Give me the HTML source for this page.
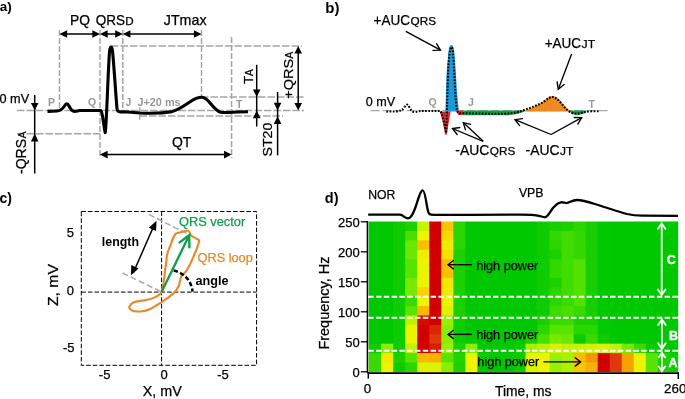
<!DOCTYPE html>
<html><head><meta charset="utf-8"><title>ECG features</title>
<style>
html,body{margin:0;padding:0;background:#fff;}
body{width:685px;height:399px;overflow:hidden;}
svg{display:block;font-family:"Liberation Sans",Arial,sans-serif;}
</style></head><body>
<svg width="685" height="399" viewBox="0 0 685 399">
<rect width="685" height="399" fill="#fff"/>
<g id="pa">
<text x="-0.3" y="10.8" font-size="13.5" fill="#000" font-weight="bold" textLength="12" lengthAdjust="spacingAndGlyphs">a)</text>
<line x1="59.5" y1="30" x2="59.5" y2="111" stroke="#a6a6a6" stroke-width="1.5" stroke-dasharray="6 2"/>
<line x1="100" y1="30" x2="100" y2="158" stroke="#a6a6a6" stroke-width="1.5" stroke-dasharray="6 2"/>
<line x1="122.8" y1="30" x2="122.8" y2="111" stroke="#a6a6a6" stroke-width="1.5" stroke-dasharray="6 2"/>
<line x1="201.5" y1="30" x2="201.5" y2="97" stroke="#a6a6a6" stroke-width="1.5" stroke-dasharray="6 2"/>
<line x1="231.6" y1="37" x2="231.6" y2="158" stroke="#a6a6a6" stroke-width="1.5" stroke-dasharray="6 2"/>
<line x1="139.7" y1="107.5" x2="139.7" y2="120.5" stroke="#a6a6a6" stroke-width="1.4" stroke-dasharray="5 2"/>
<line x1="111" y1="46" x2="302" y2="46" stroke="#a6a6a6" stroke-width="1.5" stroke-dasharray="7.5 2"/>
<line x1="17" y1="110.6" x2="304" y2="110.6" stroke="#a6a6a6" stroke-width="1.5" stroke-dasharray="7.5 2"/>
<line x1="139.5" y1="116" x2="283" y2="116" stroke="#a6a6a6" stroke-width="1.5" stroke-dasharray="7.5 2"/>
<line x1="201" y1="97" x2="304" y2="97" stroke="#a6a6a6" stroke-width="1.5" stroke-dasharray="7.5 2"/>
<line x1="17" y1="133.8" x2="100" y2="133.8" stroke="#a6a6a6" stroke-width="1.5" stroke-dasharray="7.5 2"/>
<text x="48" y="106" font-size="10.5" fill="#989898" font-weight="bold">P</text>
<text x="88" y="106" font-size="10.5" fill="#989898" font-weight="bold">Q</text>
<text x="125.6" y="106" font-size="10.5" fill="#989898" font-weight="bold">J</text>
<text x="137.4" y="106" font-size="10.5" fill="#989898" font-weight="bold" textLength="43.2" lengthAdjust="spacingAndGlyphs">J+20 ms</text>
<text x="236" y="107.8" font-size="10.5" fill="#999" font-weight="bold">T</text>
<path d="M47.5 111.4 L57 111 C60 111,62.5 109,64.5 106 C66 103.2,67.5 103.2,69 106 C70.5 109,72 111.4,74.5 111.4 C77 111.2,78 110.6,80 110.5 L101 110.5 C102.5 112,104 128,105.2 132.6 C106.5 128,108.3 62,109.6 51 C110.2 45.8,111.9 45.8,112.5 51 C113.8 63,116 98,117 108.5 C117.5 112,119 112,121 111.8 L128 112 L140 113 C152 113.6,163 113.2,172 111.6 C180 109.5,186 104.5,192 100.5 C195.5 98.2,198.5 97.2,201.3 97.2 C204 97.2,206.5 98.8,209 101.8 C213 106.5,216 111,220.5 112.2 C226 112.9,232 112.2,238 112 L248 111.7" fill="none" stroke="#000" stroke-width="3.1" stroke-linejoin="round" stroke-linecap="butt"/>
<line x1="61.5" y1="34" x2="98" y2="34" stroke="#000" stroke-width="1.5"/>
<polygon points="59.5,34.0 67.1,30.2 67.1,37.8" fill="#000"/>
<polygon points="100.0,34.0 92.4,37.8 92.4,30.2" fill="#000"/>
<line x1="102" y1="34" x2="120.8" y2="34" stroke="#000" stroke-width="1.5"/>
<polygon points="100.0,34.0 107.6,30.2 107.6,37.8" fill="#000"/>
<polygon points="122.8,34.0 115.2,37.8 115.2,30.2" fill="#000"/>
<line x1="124.8" y1="34" x2="199.5" y2="34" stroke="#000" stroke-width="1.5"/>
<polygon points="122.8,34.0 130.4,30.2 130.4,37.8" fill="#000"/>
<polygon points="201.5,34.0 193.9,37.8 193.9,30.2" fill="#000"/>
<line x1="102" y1="154.6" x2="229.6" y2="154.6" stroke="#000" stroke-width="1.5"/>
<polygon points="100.0,154.6 107.6,150.8 107.6,158.4" fill="#000"/>
<polygon points="231.6,154.6 224.0,158.4 224.0,150.8" fill="#000"/>
<text x="70" y="25" font-size="14.5" fill="#000" textLength="20" lengthAdjust="spacingAndGlyphs" stroke="#000" stroke-width="0.25">PQ</text>
<text x="95.7" y="25" font-size="14.5" fill="#000" textLength="29.3" lengthAdjust="spacingAndGlyphs" stroke="#000" stroke-width="0.25">QRS</text>
<text x="125.3" y="25" font-size="10.8" fill="#000" textLength="8.4" lengthAdjust="spacingAndGlyphs" stroke="#000" stroke-width="0.25">D</text>
<text x="163.8" y="24.8" font-size="14.5" fill="#000" textLength="42.7" lengthAdjust="spacingAndGlyphs" stroke="#000" stroke-width="0.25">JTmax</text>
<text x="172" y="146.8" font-size="14.5" fill="#000" textLength="19.4" lengthAdjust="spacingAndGlyphs" stroke="#000" stroke-width="0.25">QT</text>
<text x="-0.5" y="102.6" font-size="13" fill="#000" textLength="29.6" lengthAdjust="spacingAndGlyphs" stroke="#000" stroke-width="0.25">0 mV</text>
<line x1="34.7" y1="95" x2="34.7" y2="173.5" stroke="#000" stroke-width="1.5"/>
<polygon points="34.7,110.6 30.9,103.0 38.5,103.0" fill="#000"/>
<polygon points="34.7,133.8 38.5,141.4 30.9,141.4" fill="#000"/>
<text x="26.2" y="174" font-size="13.8" fill="#000" textLength="35" lengthAdjust="spacingAndGlyphs" transform="rotate(-90 26.2 174)" stroke="#000" stroke-width="0.25">-QRS</text>
<text x="26.2" y="138.3" font-size="10.3" fill="#000" transform="rotate(-90 26.2 138.3)" stroke="#000" stroke-width="0.25">A</text>
<line x1="256.7" y1="64.8" x2="256.7" y2="126.5" stroke="#000" stroke-width="1.5"/>
<polygon points="256.7,97.0 252.9,89.4 260.5,89.4" fill="#000"/>
<polygon points="256.7,110.6 260.5,118.2 252.9,118.2" fill="#000"/>
<text x="252.5" y="84" font-size="13.5" fill="#000" transform="rotate(-90 252.5 84)" stroke="#000" stroke-width="0.25">T</text>
<text x="252.5" y="76" font-size="10" fill="#000" transform="rotate(-90 252.5 76)" stroke="#000" stroke-width="0.25">A</text>
<line x1="277.6" y1="92" x2="277.6" y2="155.4" stroke="#000" stroke-width="1.5"/>
<polygon points="277.6,110.4 273.8,102.8 281.4,102.8" fill="#000"/>
<polygon points="277.6,116.3 281.4,123.9 273.8,123.9" fill="#000"/>
<text x="272.3" y="156.6" font-size="13.5" fill="#000" textLength="34" lengthAdjust="spacingAndGlyphs" transform="rotate(-90 272.3 156.6)" stroke="#000" stroke-width="0.25">ST20</text>
<line x1="298.2" y1="48" x2="298.2" y2="108" stroke="#000" stroke-width="1.5"/>
<polygon points="298.2,46.0 302.0,53.6 294.4,53.6" fill="#000"/>
<polygon points="298.2,110.6 294.4,103.0 302.0,103.0" fill="#000"/>
<text x="292.8" y="98.8" font-size="13.5" fill="#000" textLength="40" lengthAdjust="spacingAndGlyphs" transform="rotate(-90 292.8 98.8)" stroke="#000" stroke-width="0.25">+QRS</text>
<text x="292.8" y="58.5" font-size="10" fill="#000" transform="rotate(-90 292.8 58.5)" stroke="#000" stroke-width="0.25">A</text>
</g>
<g id="pb">
<text x="325.3" y="12.6" font-size="15" fill="#000" font-weight="bold">b)</text>
<line x1="370.6" y1="110.6" x2="608.5" y2="110.6" stroke="#a6a6a6" stroke-width="1.3" stroke-dasharray="9 3"/>
<path d="M445.4 111.5 C445.8 100,446 90,446.3 80 C446.7 70,447.2 64,447.8 59 C448.2 52,448.8 45,451.4 45 C454 45,454.4 52,454.8 58 C455.3 64,455.8 72,456.3 80 C457 92,457.8 102,459.1 111.5 Z" fill="#1c9ad8"/>
<path d="M439.6 111.5 L450.6 111.5 C449.2 119,447.8 129,446.9 134 C446.6 135.4,445.4 135.4,445.1 134 C444 128,442 117,439.6 111.5 Z" fill="#e0262a"/>
<path d="M456.4 110.6 L463.6 110.6 L463.6 115 L458.5 115 C457.5 114.5,456.8 112.8,456.4 110.6 Z" fill="#e0262a"/>
<path d="M463.4 110.6 L526 110.6 C522 113.2,515 114.9,506 115.2 L463.4 115.2 Z" fill="#14a04a"/>
<path d="M523.5 111.5 C530 107.8,538 105.6,543.5 101.2 C547.5 98,550 96,552.5 96 C555.5 96,558.5 98.5,561.5 102 C564.5 105.5,567.5 109,571 111.5 Z" fill="#ee8a22"/>
<path d="M569 110.6 L587 110.6 C585 113.6,581 115.2,577 115.2 C573.5 115.2,571 113.6,569 110.6 Z" fill="#14a04a"/>
<path d="M386.4 111.6 L397 111.4 C401 111,403 109.5,405 106.5 C406.5 104,407.8 104,409 106.5 C410.5 109.5,412 112,414.5 112 C417 111.8,419 111,421 111 L440.5 111 C442.5 114,445 127,446.1 132.8 C446.6 127,447.2 100,447.7 84 C448 72,448.6 61,449.6 54 C450.2 49,450.8 47,451.4 47 C452 47,452.5 48.5,453 53 C453.8 62,454.4 74,454.8 84 C455.3 95,456 104,457 110 C457.6 113.4,459 113.3,461 113.2 L480 113.6 L500 113.8 C508 113.8,516 113.2,522 110.8 C530 107.8,538 105.5,544 101.5 C548 98.5,550.5 97,552.5 97 C555 97,558 99.5,561 103 C565 108,569 113,574.5 113.5 C580 113.8,585 111.6,592 111.3 L599 111.3" fill="none" stroke="#000" stroke-width="2.1" stroke-dasharray="1.7 1.5"/>
<text x="365.8" y="105.6" font-size="13" fill="#000" textLength="29.4" lengthAdjust="spacingAndGlyphs" stroke="#000" stroke-width="0.25">0 mV</text>
<text x="428.4" y="105.6" font-size="10.5" fill="#989898" font-weight="bold">Q</text>
<text x="467.9" y="105.6" font-size="10.5" fill="#989898" font-weight="bold">J</text>
<text x="588.4" y="107.9" font-size="10.5" fill="#999" font-weight="bold">T</text>
<text x="373.6" y="24.6" font-size="14.5" fill="#000" textLength="36.4" lengthAdjust="spacingAndGlyphs" stroke="#000" stroke-width="0.25">+AUC</text>
<text x="410.5" y="24.6" font-size="10.2" fill="#000" textLength="25.5" lengthAdjust="spacingAndGlyphs" stroke="#000" stroke-width="0.25">QRS</text>
<line x1="405.8" y1="31.4" x2="440.5" y2="50.2" stroke="#000" stroke-width="1.35"/>
<polyline points="433.0,50.4 440.5,50.2 436.6,43.8" fill="none" stroke="#000" stroke-width="1.35" stroke-linecap="round" stroke-linejoin="miter"/>
<text x="544.7" y="47.8" font-size="14.5" fill="#000" textLength="36.4" lengthAdjust="spacingAndGlyphs" stroke="#000" stroke-width="0.25">+AUC</text>
<text x="581.6" y="47.8" font-size="10" fill="#000" textLength="13.5" lengthAdjust="spacingAndGlyphs" stroke="#000" stroke-width="0.25">JT</text>
<line x1="571.6" y1="54" x2="558.3" y2="89.2" stroke="#000" stroke-width="1.35"/>
<polyline points="557.1,81.8 558.3,89.2 564.1,84.4" fill="none" stroke="#000" stroke-width="1.35" stroke-linecap="round" stroke-linejoin="miter"/>
<text x="455.3" y="154.8" font-size="14.5" fill="#000" textLength="34" lengthAdjust="spacingAndGlyphs" stroke="#000" stroke-width="0.25">-AUC</text>
<text x="489.8" y="154.8" font-size="10.5" fill="#000" textLength="25.5" lengthAdjust="spacingAndGlyphs" stroke="#000" stroke-width="0.25">QRS</text>
<line x1="483.2" y1="141.3" x2="452.5" y2="128.5" stroke="#000" stroke-width="1.35"/>
<polyline points="459.9,127.5 452.5,128.5 457.1,134.5" fill="none" stroke="#000" stroke-width="1.35" stroke-linecap="round" stroke-linejoin="miter"/>
<line x1="483.2" y1="141.3" x2="463.3" y2="122.6" stroke="#000" stroke-width="1.35"/>
<polyline points="470.6,124.3 463.3,122.6 465.5,129.8" fill="none" stroke="#000" stroke-width="1.35" stroke-linecap="round" stroke-linejoin="miter"/>
<text x="525.6" y="155" font-size="14.5" fill="#000" textLength="34" lengthAdjust="spacingAndGlyphs" stroke="#000" stroke-width="0.25">-AUC</text>
<text x="560.1" y="155" font-size="10.5" fill="#000" textLength="13.3" lengthAdjust="spacingAndGlyphs" stroke="#000" stroke-width="0.25">JT</text>
<line x1="551" y1="134.5" x2="515" y2="119.7" stroke="#000" stroke-width="1.35"/>
<polyline points="522.4,118.7 515.0,119.7 519.6,125.6" fill="none" stroke="#000" stroke-width="1.35" stroke-linecap="round" stroke-linejoin="miter"/>
<line x1="551" y1="134.5" x2="581.7" y2="117.7" stroke="#000" stroke-width="1.35"/>
<polyline points="577.8,124.1 581.7,117.7 574.2,117.5" fill="none" stroke="#000" stroke-width="1.35" stroke-linecap="round" stroke-linejoin="miter"/>
</g>
<g id="pc">
<text x="-0.5" y="202.8" font-size="14" fill="#000" font-weight="bold">c)</text>
<rect x="81.3" y="211.5" width="175.3" height="153.8" fill="none" stroke="#000" stroke-width="1" stroke-dasharray="4.6 2"/>
<line x1="161.6" y1="211.5" x2="161.6" y2="365.3" stroke="#000" stroke-width="1" stroke-dasharray="4.6 2"/>
<line x1="81.3" y1="292.1" x2="256.6" y2="292.1" stroke="#000" stroke-width="1" stroke-dasharray="4.6 2"/>
<text x="70.3" y="237.3" font-size="13" fill="#000" text-anchor="middle" stroke="#000" stroke-width="0.25">5</text>
<text x="70.3" y="294.7" font-size="13" fill="#000" text-anchor="middle" stroke="#000" stroke-width="0.25">0</text>
<text x="68.7" y="352.4" font-size="13" fill="#000" text-anchor="middle" stroke="#000" stroke-width="0.25">-5</text>
<text x="104.6" y="378.8" font-size="13" fill="#000" text-anchor="middle" stroke="#000" stroke-width="0.25">-5</text>
<text x="164.2" y="378.8" font-size="13" fill="#000" text-anchor="middle" stroke="#000" stroke-width="0.25">0</text>
<text x="223" y="378.8" font-size="13" fill="#000" text-anchor="middle" stroke="#000" stroke-width="0.25">-5</text>
<text x="142.7" y="395.8" font-size="14" fill="#000" textLength="39" lengthAdjust="spacingAndGlyphs" stroke="#000" stroke-width="0.25">X, mV</text>
<text x="58.3" y="306" font-size="14" fill="#000" textLength="42" lengthAdjust="spacingAndGlyphs" transform="rotate(-90 58.3 306)" stroke="#000" stroke-width="0.25">Z, mV</text>
<line x1="149" y1="214.4" x2="189" y2="234.7" stroke="#aaa" stroke-width="1.5" stroke-dasharray="6 3"/>
<line x1="122.6" y1="273" x2="161.6" y2="292" stroke="#aaa" stroke-width="1.5" stroke-dasharray="6 3"/>
<path d="M161.6 292.3 C163 286,164.3 280,164.8 273 C165 268,166.8 262,166.6 257.8 C167 252,169.5 248,171 244 C172 240,173.5 236.5,175.4 234 C177 232,178.5 233.3,180.4 232.3 C183 231.5,185.5 230.5,188 230.7 C190 231,189.5 234,191 235.4 C193.5 237.5,197 238.5,199.2 240.3 C198.8 243.5,197.6 246,196.7 249 C195.5 252,194 255,193 257.8 C191 262.5,189 266.5,186.7 270.4 C185 273,183 274.5,181.2 276.5 C180 279,180 283,178.6 286.3 C177 289.5,175.5 292,172.9 293.9 C170 296.5,166.5 299,162.8 301.4 C158.5 304,154.5 307,150.3 309 C147 310.5,143.5 311.5,140.2 311.5 C137 311.7,133.5 311.5,131.4 310.2 C129.5 309,128.8 307.5,129.6 306.2 C130.5 304.3,132 303,133.9 302.2 C137.5 301,141.5 300.8,145.2 300.2 C149 299.5,152.5 298.5,155.3 297.1 C157.8 295.8,160 294.3,161.6 292.3 Z" fill="none" stroke="#e8882a" stroke-width="2.1" stroke-linejoin="round"/>
<line x1="161.6" y1="292.1" x2="188.7" y2="236.2" stroke="#0e9d4e" stroke-width="2.3"/>
<polyline points="189.4,247.2 189.2,235.2 179.6,242.4" fill="none" stroke="#0e9d4e" stroke-width="2.4" stroke-linecap="round" stroke-linejoin="miter"/>
<text x="179" y="225.7" font-size="12.8" fill="#0e9d4e" textLength="66.2" lengthAdjust="spacingAndGlyphs" stroke="#0e9d4e" stroke-width="0.25">QRS vector</text>
<text x="197.5" y="261.6" font-size="12.8" fill="#e8882a" textLength="55.3" lengthAdjust="spacingAndGlyphs" stroke="#e8882a" stroke-width="0.25">QRS loop</text>
<text x="101.8" y="246.2" font-size="12.4" fill="#000" font-weight="bold" textLength="37.2" lengthAdjust="spacingAndGlyphs">length</text>
<text x="195.5" y="284.6" font-size="12.6" fill="#000" font-weight="bold" textLength="33.1" lengthAdjust="spacingAndGlyphs">angle</text>
<line x1="154.8" y1="223.6" x2="133.2" y2="273" stroke="#000" stroke-width="1.5"/>
<polygon points="156.5,220.8 156.1,231.1 148.8,227.7" fill="#000"/>
<polygon points="130.9,275.3 131.3,265.0 138.6,268.4" fill="#000"/>
<path d="M173.6 270.6 C180.5 272,186 276,189 281 C191 284.5,192.3 288,192.5 291.6" fill="none" stroke="#000" stroke-width="2.5" stroke-dasharray="4.4 2.4"/>
</g>
<g id="pd">
<text x="324.8" y="203.2" font-size="14.5" fill="#000" font-weight="bold">d)</text>
<clipPath id="hc"><rect x="368.6" y="221.6" width="309.6" height="150.29999999999998"/></clipPath>
<filter id="hb" x="-5%" y="-5%" width="110%" height="110%"><feGaussianBlur stdDeviation="0.55"/></filter>
<g clip-path="url(#hc)"><g filter="url(#hb)">
<rect x="363.1" y="215.6" width="321.1" height="162.29999999999998" fill="#00c800"/>
<rect x="363.10" y="215.60" width="31.06" height="16.39" fill="#00c800"/>
<rect x="393.16" y="215.60" width="13.03" height="16.39" fill="#11cd00"/>
<rect x="405.19" y="215.60" width="13.03" height="16.39" fill="#1cd000"/>
<rect x="417.22" y="215.60" width="13.03" height="16.39" fill="#caf200"/>
<rect x="429.25" y="215.60" width="13.03" height="16.39" fill="#d00000"/>
<rect x="441.28" y="215.60" width="13.03" height="16.39" fill="#f9c700"/>
<rect x="453.31" y="215.60" width="13.03" height="16.39" fill="#2ad500"/>
<rect x="465.34" y="215.60" width="73.18" height="16.39" fill="#00c800"/>
<rect x="537.52" y="215.60" width="13.03" height="16.39" fill="#11cd00"/>
<rect x="549.55" y="215.60" width="13.03" height="16.39" fill="#16ce00"/>
<rect x="561.58" y="215.60" width="13.03" height="16.39" fill="#1cd000"/>
<rect x="573.61" y="215.60" width="13.03" height="16.39" fill="#2dd600"/>
<rect x="585.64" y="215.60" width="13.03" height="16.39" fill="#16ce00"/>
<rect x="597.67" y="215.60" width="13.03" height="16.39" fill="#06ca00"/>
<rect x="609.70" y="215.60" width="79.18" height="16.39" fill="#00c800"/>
<rect x="363.10" y="230.99" width="31.06" height="10.39" fill="#00c800"/>
<rect x="393.16" y="230.99" width="13.03" height="10.39" fill="#11cd00"/>
<rect x="405.19" y="230.99" width="13.03" height="10.39" fill="#48df00"/>
<rect x="417.22" y="230.99" width="13.03" height="10.39" fill="#ecf400"/>
<rect x="429.25" y="230.99" width="13.03" height="10.39" fill="#d00000"/>
<rect x="441.28" y="230.99" width="13.03" height="10.39" fill="#fada00"/>
<rect x="453.31" y="230.99" width="13.03" height="10.39" fill="#2ad500"/>
<rect x="465.34" y="230.99" width="73.18" height="10.39" fill="#00c800"/>
<rect x="537.52" y="230.99" width="13.03" height="10.39" fill="#11cd00"/>
<rect x="549.55" y="230.99" width="13.03" height="10.39" fill="#32d800"/>
<rect x="561.58" y="230.99" width="13.03" height="10.39" fill="#42dd00"/>
<rect x="573.61" y="230.99" width="13.03" height="10.39" fill="#32d800"/>
<rect x="585.64" y="230.99" width="13.03" height="10.39" fill="#16ce00"/>
<rect x="597.67" y="230.99" width="13.03" height="10.39" fill="#06ca00"/>
<rect x="609.70" y="230.99" width="79.18" height="10.39" fill="#00c800"/>
<rect x="363.10" y="240.38" width="31.06" height="10.39" fill="#00c800"/>
<rect x="393.16" y="240.38" width="13.03" height="10.39" fill="#11cd00"/>
<rect x="405.19" y="240.38" width="13.03" height="10.39" fill="#6be800"/>
<rect x="417.22" y="240.38" width="13.03" height="10.39" fill="#f8c000"/>
<rect x="429.25" y="240.38" width="13.03" height="10.39" fill="#d00000"/>
<rect x="441.28" y="240.38" width="13.03" height="10.39" fill="#f0ec00"/>
<rect x="453.31" y="240.38" width="13.03" height="10.39" fill="#2ad500"/>
<rect x="465.34" y="240.38" width="73.18" height="10.39" fill="#00c800"/>
<rect x="537.52" y="240.38" width="13.03" height="10.39" fill="#11cd00"/>
<rect x="549.55" y="240.38" width="13.03" height="10.39" fill="#2dd600"/>
<rect x="561.58" y="240.38" width="13.03" height="10.39" fill="#42dd00"/>
<rect x="573.61" y="240.38" width="13.03" height="10.39" fill="#32d800"/>
<rect x="585.64" y="240.38" width="13.03" height="10.39" fill="#16ce00"/>
<rect x="597.67" y="240.38" width="13.03" height="10.39" fill="#06ca00"/>
<rect x="609.70" y="240.38" width="79.18" height="10.39" fill="#00c800"/>
<rect x="363.10" y="249.77" width="31.06" height="10.39" fill="#00c800"/>
<rect x="393.16" y="249.77" width="13.03" height="10.39" fill="#11cd00"/>
<rect x="405.19" y="249.77" width="13.03" height="10.39" fill="#6be800"/>
<rect x="417.22" y="249.77" width="13.03" height="10.39" fill="#f0ec00"/>
<rect x="429.25" y="249.77" width="13.03" height="10.39" fill="#d00000"/>
<rect x="441.28" y="249.77" width="13.03" height="10.39" fill="#f7df00"/>
<rect x="453.31" y="249.77" width="13.03" height="10.39" fill="#1cd000"/>
<rect x="465.34" y="249.77" width="73.18" height="10.39" fill="#00c800"/>
<rect x="537.52" y="249.77" width="13.03" height="10.39" fill="#11cd00"/>
<rect x="549.55" y="249.77" width="13.03" height="10.39" fill="#1cd000"/>
<rect x="561.58" y="249.77" width="13.03" height="10.39" fill="#42dd00"/>
<rect x="573.61" y="249.77" width="13.03" height="10.39" fill="#32d800"/>
<rect x="585.64" y="249.77" width="13.03" height="10.39" fill="#16ce00"/>
<rect x="597.67" y="249.77" width="13.03" height="10.39" fill="#06ca00"/>
<rect x="609.70" y="249.77" width="79.18" height="10.39" fill="#00c800"/>
<rect x="363.10" y="259.16" width="31.06" height="10.39" fill="#00c800"/>
<rect x="393.16" y="259.16" width="13.03" height="10.39" fill="#11cd00"/>
<rect x="405.19" y="259.16" width="13.03" height="10.39" fill="#58e400"/>
<rect x="417.22" y="259.16" width="13.03" height="10.39" fill="#ecf400"/>
<rect x="429.25" y="259.16" width="13.03" height="10.39" fill="#d00000"/>
<rect x="441.28" y="259.16" width="13.03" height="10.39" fill="#f8c000"/>
<rect x="453.31" y="259.16" width="13.03" height="10.39" fill="#1cd000"/>
<rect x="465.34" y="259.16" width="73.18" height="10.39" fill="#00c800"/>
<rect x="537.52" y="259.16" width="13.03" height="10.39" fill="#11cd00"/>
<rect x="549.55" y="259.16" width="13.03" height="10.39" fill="#32d800"/>
<rect x="561.58" y="259.16" width="13.03" height="10.39" fill="#42dd00"/>
<rect x="573.61" y="259.16" width="13.03" height="10.39" fill="#52e200"/>
<rect x="585.64" y="259.16" width="13.03" height="10.39" fill="#16ce00"/>
<rect x="597.67" y="259.16" width="13.03" height="10.39" fill="#06ca00"/>
<rect x="609.70" y="259.16" width="79.18" height="10.39" fill="#00c800"/>
<rect x="363.10" y="268.55" width="31.06" height="10.39" fill="#00c800"/>
<rect x="393.16" y="268.55" width="13.03" height="10.39" fill="#11cd00"/>
<rect x="405.19" y="268.55" width="13.03" height="10.39" fill="#58e400"/>
<rect x="417.22" y="268.55" width="13.03" height="10.39" fill="#ecf400"/>
<rect x="429.25" y="268.55" width="13.03" height="10.39" fill="#d00000"/>
<rect x="441.28" y="268.55" width="13.03" height="10.39" fill="#f8c000"/>
<rect x="453.31" y="268.55" width="13.03" height="10.39" fill="#1cd000"/>
<rect x="465.34" y="268.55" width="73.18" height="10.39" fill="#00c800"/>
<rect x="537.52" y="268.55" width="13.03" height="10.39" fill="#11cd00"/>
<rect x="549.55" y="268.55" width="13.03" height="10.39" fill="#32d800"/>
<rect x="561.58" y="268.55" width="13.03" height="10.39" fill="#42dd00"/>
<rect x="573.61" y="268.55" width="13.03" height="10.39" fill="#52e200"/>
<rect x="585.64" y="268.55" width="13.03" height="10.39" fill="#16ce00"/>
<rect x="597.67" y="268.55" width="13.03" height="10.39" fill="#06ca00"/>
<rect x="609.70" y="268.55" width="79.18" height="10.39" fill="#00c800"/>
<rect x="363.10" y="277.94" width="31.06" height="10.39" fill="#00c800"/>
<rect x="393.16" y="277.94" width="13.03" height="10.39" fill="#11cd00"/>
<rect x="405.19" y="277.94" width="13.03" height="10.39" fill="#77ea00"/>
<rect x="417.22" y="277.94" width="13.03" height="10.39" fill="#ecf400"/>
<rect x="429.25" y="277.94" width="13.03" height="10.39" fill="#d00000"/>
<rect x="441.28" y="277.94" width="13.03" height="10.39" fill="#f3e700"/>
<rect x="453.31" y="277.94" width="13.03" height="10.39" fill="#1cd000"/>
<rect x="465.34" y="277.94" width="73.18" height="10.39" fill="#00c800"/>
<rect x="537.52" y="277.94" width="13.03" height="10.39" fill="#11cd00"/>
<rect x="549.55" y="277.94" width="13.03" height="10.39" fill="#1cd000"/>
<rect x="561.58" y="277.94" width="13.03" height="10.39" fill="#42dd00"/>
<rect x="573.61" y="277.94" width="13.03" height="10.39" fill="#52e200"/>
<rect x="585.64" y="277.94" width="13.03" height="10.39" fill="#16ce00"/>
<rect x="597.67" y="277.94" width="13.03" height="10.39" fill="#06ca00"/>
<rect x="609.70" y="277.94" width="79.18" height="10.39" fill="#00c800"/>
<rect x="363.10" y="287.33" width="31.06" height="10.39" fill="#00c800"/>
<rect x="393.16" y="287.33" width="13.03" height="10.39" fill="#11cd00"/>
<rect x="405.19" y="287.33" width="13.03" height="10.39" fill="#77ea00"/>
<rect x="417.22" y="287.33" width="13.03" height="10.39" fill="#f9d000"/>
<rect x="429.25" y="287.33" width="13.03" height="10.39" fill="#d00000"/>
<rect x="441.28" y="287.33" width="13.03" height="10.39" fill="#f0ec00"/>
<rect x="453.31" y="287.33" width="13.03" height="10.39" fill="#1cd000"/>
<rect x="465.34" y="287.33" width="73.18" height="10.39" fill="#00c800"/>
<rect x="537.52" y="287.33" width="13.03" height="10.39" fill="#11cd00"/>
<rect x="549.55" y="287.33" width="13.03" height="10.39" fill="#2ad500"/>
<rect x="561.58" y="287.33" width="13.03" height="10.39" fill="#42dd00"/>
<rect x="573.61" y="287.33" width="13.03" height="10.39" fill="#52e200"/>
<rect x="585.64" y="287.33" width="13.03" height="10.39" fill="#16ce00"/>
<rect x="597.67" y="287.33" width="13.03" height="10.39" fill="#06ca00"/>
<rect x="609.70" y="287.33" width="79.18" height="10.39" fill="#00c800"/>
<rect x="363.10" y="296.72" width="31.06" height="10.39" fill="#00c800"/>
<rect x="393.16" y="296.72" width="13.03" height="10.39" fill="#11cd00"/>
<rect x="405.19" y="296.72" width="13.03" height="10.39" fill="#38da00"/>
<rect x="417.22" y="296.72" width="13.03" height="10.39" fill="#ecf400"/>
<rect x="429.25" y="296.72" width="13.03" height="10.39" fill="#d00000"/>
<rect x="441.28" y="296.72" width="13.03" height="10.39" fill="#ecf400"/>
<rect x="453.31" y="296.72" width="13.03" height="10.39" fill="#1cd000"/>
<rect x="465.34" y="296.72" width="73.18" height="10.39" fill="#00c800"/>
<rect x="537.52" y="296.72" width="13.03" height="10.39" fill="#11cd00"/>
<rect x="549.55" y="296.72" width="13.03" height="10.39" fill="#2ad500"/>
<rect x="561.58" y="296.72" width="13.03" height="10.39" fill="#38da00"/>
<rect x="573.61" y="296.72" width="13.03" height="10.39" fill="#52e200"/>
<rect x="585.64" y="296.72" width="13.03" height="10.39" fill="#16ce00"/>
<rect x="597.67" y="296.72" width="13.03" height="10.39" fill="#06ca00"/>
<rect x="609.70" y="296.72" width="79.18" height="10.39" fill="#00c800"/>
<rect x="363.10" y="306.11" width="31.06" height="10.39" fill="#00c800"/>
<rect x="393.16" y="306.11" width="13.03" height="10.39" fill="#11cd00"/>
<rect x="405.19" y="306.11" width="13.03" height="10.39" fill="#58e400"/>
<rect x="417.22" y="306.11" width="13.03" height="10.39" fill="#f8ba00"/>
<rect x="429.25" y="306.11" width="13.03" height="10.39" fill="#d00000"/>
<rect x="441.28" y="306.11" width="13.03" height="10.39" fill="#dbf300"/>
<rect x="453.31" y="306.11" width="13.03" height="10.39" fill="#1cd000"/>
<rect x="465.34" y="306.11" width="73.18" height="10.39" fill="#00c800"/>
<rect x="537.52" y="306.11" width="13.03" height="10.39" fill="#11cd00"/>
<rect x="549.55" y="306.11" width="13.03" height="10.39" fill="#3edc00"/>
<rect x="561.58" y="306.11" width="13.03" height="10.39" fill="#48df00"/>
<rect x="573.61" y="306.11" width="13.03" height="10.39" fill="#38da00"/>
<rect x="585.64" y="306.11" width="13.03" height="10.39" fill="#16ce00"/>
<rect x="597.67" y="306.11" width="13.03" height="10.39" fill="#06ca00"/>
<rect x="609.70" y="306.11" width="79.18" height="10.39" fill="#00c800"/>
<rect x="363.10" y="315.50" width="31.06" height="10.39" fill="#00c800"/>
<rect x="393.16" y="315.50" width="13.03" height="10.39" fill="#0ecc00"/>
<rect x="405.19" y="315.50" width="13.03" height="10.39" fill="#c1f200"/>
<rect x="417.22" y="315.50" width="13.03" height="10.39" fill="#d51102"/>
<rect x="429.25" y="315.50" width="13.03" height="10.39" fill="#d00000"/>
<rect x="441.28" y="315.50" width="13.03" height="10.39" fill="#96f000"/>
<rect x="453.31" y="315.50" width="13.03" height="10.39" fill="#0ecc00"/>
<rect x="465.34" y="315.50" width="73.18" height="10.39" fill="#00c800"/>
<rect x="537.52" y="315.50" width="13.03" height="10.39" fill="#1cd000"/>
<rect x="549.55" y="315.50" width="25.06" height="10.39" fill="#38da00"/>
<rect x="573.61" y="315.50" width="25.06" height="10.39" fill="#1cd000"/>
<rect x="597.67" y="315.50" width="13.03" height="10.39" fill="#06ca00"/>
<rect x="609.70" y="315.50" width="79.18" height="10.39" fill="#00c800"/>
<rect x="363.10" y="324.89" width="31.06" height="10.39" fill="#00c800"/>
<rect x="393.16" y="324.89" width="13.03" height="10.39" fill="#0ecc00"/>
<rect x="405.19" y="324.89" width="13.03" height="10.39" fill="#ecf400"/>
<rect x="417.22" y="324.89" width="13.03" height="10.39" fill="#d00000"/>
<rect x="429.25" y="324.89" width="13.03" height="10.39" fill="#db2706"/>
<rect x="441.28" y="324.89" width="13.03" height="10.39" fill="#8aee00"/>
<rect x="453.31" y="324.89" width="13.03" height="10.39" fill="#0ecc00"/>
<rect x="465.34" y="324.89" width="73.18" height="10.39" fill="#00c800"/>
<rect x="537.52" y="324.89" width="13.03" height="10.39" fill="#2ad500"/>
<rect x="549.55" y="324.89" width="25.06" height="10.39" fill="#58e400"/>
<rect x="573.61" y="324.89" width="25.06" height="10.39" fill="#2ad500"/>
<rect x="597.67" y="324.89" width="13.03" height="10.39" fill="#06ca00"/>
<rect x="609.70" y="324.89" width="79.18" height="10.39" fill="#00c800"/>
<rect x="363.10" y="334.28" width="31.06" height="10.39" fill="#00c800"/>
<rect x="393.16" y="334.28" width="13.03" height="10.39" fill="#0ecc00"/>
<rect x="405.19" y="334.28" width="13.03" height="10.39" fill="#ecf400"/>
<rect x="417.22" y="334.28" width="13.03" height="10.39" fill="#d00000"/>
<rect x="429.25" y="334.28" width="13.03" height="10.39" fill="#e03808"/>
<rect x="441.28" y="334.28" width="13.03" height="10.39" fill="#8aee00"/>
<rect x="453.31" y="334.28" width="13.03" height="10.39" fill="#0ecc00"/>
<rect x="465.34" y="334.28" width="61.15" height="10.39" fill="#00c800"/>
<rect x="525.49" y="334.28" width="13.03" height="10.39" fill="#1cd000"/>
<rect x="537.52" y="334.28" width="13.03" height="10.39" fill="#48df00"/>
<rect x="549.55" y="334.28" width="13.03" height="10.39" fill="#77ea00"/>
<rect x="561.58" y="334.28" width="13.03" height="10.39" fill="#6be800"/>
<rect x="573.61" y="334.28" width="13.03" height="10.39" fill="#0ecc00"/>
<rect x="585.64" y="334.28" width="13.03" height="10.39" fill="#38da00"/>
<rect x="597.67" y="334.28" width="13.03" height="10.39" fill="#0ecc00"/>
<rect x="609.70" y="334.28" width="79.18" height="10.39" fill="#00c800"/>
<rect x="363.10" y="343.67" width="19.03" height="10.39" fill="#0ecc00"/>
<rect x="381.13" y="343.67" width="13.03" height="10.39" fill="#8aee00"/>
<rect x="393.16" y="343.67" width="13.03" height="10.39" fill="#0ecc00"/>
<rect x="405.19" y="343.67" width="13.03" height="10.39" fill="#c1f200"/>
<rect x="417.22" y="343.67" width="13.03" height="10.39" fill="#d00000"/>
<rect x="429.25" y="343.67" width="13.03" height="10.39" fill="#d81c04"/>
<rect x="441.28" y="343.67" width="13.03" height="10.39" fill="#96f000"/>
<rect x="453.31" y="343.67" width="13.03" height="10.39" fill="#1cd000"/>
<rect x="465.34" y="343.67" width="13.03" height="10.39" fill="#8aee00"/>
<rect x="477.37" y="343.67" width="37.09" height="10.39" fill="#00c800"/>
<rect x="513.46" y="343.67" width="13.03" height="10.39" fill="#0ecc00"/>
<rect x="525.49" y="343.67" width="13.03" height="10.39" fill="#a7f100"/>
<rect x="537.52" y="343.67" width="13.03" height="10.39" fill="#b8f200"/>
<rect x="549.55" y="343.67" width="13.03" height="10.39" fill="#dbf300"/>
<rect x="561.58" y="343.67" width="13.03" height="10.39" fill="#c1f200"/>
<rect x="573.61" y="343.67" width="13.03" height="10.39" fill="#caf200"/>
<rect x="585.64" y="343.67" width="13.03" height="10.39" fill="#d2f300"/>
<rect x="597.67" y="343.67" width="13.03" height="10.39" fill="#dbf300"/>
<rect x="609.70" y="343.67" width="13.03" height="10.39" fill="#c1f200"/>
<rect x="621.73" y="343.67" width="13.03" height="10.39" fill="#77ea00"/>
<rect x="633.76" y="343.67" width="13.03" height="10.39" fill="#38da00"/>
<rect x="645.79" y="343.67" width="13.03" height="10.39" fill="#08ca00"/>
<rect x="657.82" y="343.67" width="31.06" height="10.39" fill="#00c800"/>
<rect x="363.10" y="353.06" width="19.03" height="10.39" fill="#38da00"/>
<rect x="381.13" y="353.06" width="13.03" height="10.39" fill="#f0ec00"/>
<rect x="393.16" y="353.06" width="13.03" height="10.39" fill="#1cd000"/>
<rect x="405.19" y="353.06" width="13.03" height="10.39" fill="#58e400"/>
<rect x="417.22" y="353.06" width="13.03" height="10.39" fill="#f8ba00"/>
<rect x="429.25" y="353.06" width="13.03" height="10.39" fill="#f7b100"/>
<rect x="441.28" y="353.06" width="13.03" height="10.39" fill="#58e400"/>
<rect x="453.31" y="353.06" width="13.03" height="10.39" fill="#22d200"/>
<rect x="465.34" y="353.06" width="13.03" height="10.39" fill="#ecf400"/>
<rect x="477.37" y="353.06" width="13.03" height="10.39" fill="#0ecc00"/>
<rect x="489.40" y="353.06" width="25.06" height="10.39" fill="#00c800"/>
<rect x="513.46" y="353.06" width="13.03" height="10.39" fill="#0ecc00"/>
<rect x="525.49" y="353.06" width="25.06" height="10.39" fill="#ecf400"/>
<rect x="549.55" y="353.06" width="13.03" height="10.39" fill="#96f000"/>
<rect x="561.58" y="353.06" width="13.03" height="10.39" fill="#a7f100"/>
<rect x="573.61" y="353.06" width="13.03" height="10.39" fill="#f8ba00"/>
<rect x="585.64" y="353.06" width="13.03" height="10.39" fill="#f59500"/>
<rect x="597.67" y="353.06" width="13.03" height="10.39" fill="#d00000"/>
<rect x="609.70" y="353.06" width="13.03" height="10.39" fill="#e03808"/>
<rect x="621.73" y="353.06" width="13.03" height="10.39" fill="#f6a300"/>
<rect x="633.76" y="353.06" width="13.03" height="10.39" fill="#ecf400"/>
<rect x="645.79" y="353.06" width="13.03" height="10.39" fill="#58e400"/>
<rect x="657.82" y="353.06" width="13.03" height="10.39" fill="#1cd000"/>
<rect x="669.85" y="353.06" width="19.03" height="10.39" fill="#0ecc00"/>
<rect x="363.10" y="362.45" width="19.03" height="16.39" fill="#38da00"/>
<rect x="381.13" y="362.45" width="13.03" height="16.39" fill="#ecf400"/>
<rect x="393.16" y="362.45" width="13.03" height="16.39" fill="#0ecc00"/>
<rect x="405.19" y="362.45" width="13.03" height="16.39" fill="#2ad500"/>
<rect x="417.22" y="362.45" width="25.06" height="16.39" fill="#dbf300"/>
<rect x="441.28" y="362.45" width="13.03" height="16.39" fill="#8aee00"/>
<rect x="453.31" y="362.45" width="13.03" height="16.39" fill="#1cd000"/>
<rect x="465.34" y="362.45" width="13.03" height="16.39" fill="#ecf400"/>
<rect x="477.37" y="362.45" width="37.09" height="16.39" fill="#00c800"/>
<rect x="513.46" y="362.45" width="13.03" height="16.39" fill="#0ecc00"/>
<rect x="525.49" y="362.45" width="13.03" height="16.39" fill="#dbf300"/>
<rect x="537.52" y="362.45" width="13.03" height="16.39" fill="#ecf400"/>
<rect x="549.55" y="362.45" width="13.03" height="16.39" fill="#96f000"/>
<rect x="561.58" y="362.45" width="13.03" height="16.39" fill="#b0f100"/>
<rect x="573.61" y="362.45" width="13.03" height="16.39" fill="#f9c700"/>
<rect x="585.64" y="362.45" width="13.03" height="16.39" fill="#f7b100"/>
<rect x="597.67" y="362.45" width="13.03" height="16.39" fill="#d00000"/>
<rect x="609.70" y="362.45" width="13.03" height="16.39" fill="#e03808"/>
<rect x="621.73" y="362.45" width="13.03" height="16.39" fill="#f6a300"/>
<rect x="633.76" y="362.45" width="13.03" height="16.39" fill="#ecf400"/>
<rect x="645.79" y="362.45" width="13.03" height="16.39" fill="#58e400"/>
<rect x="657.82" y="362.45" width="13.03" height="16.39" fill="#1cd000"/>
<rect x="669.85" y="362.45" width="19.03" height="16.39" fill="#0ecc00"/>
</g></g>
<line x1="367.4" y1="221" x2="367.4" y2="372.9" stroke="#000" stroke-width="1.5"/>
<line x1="367.6" y1="373.1" x2="679" y2="373.1" stroke="#000" stroke-width="1.6"/>
<line x1="678.3" y1="372.4" x2="678.3" y2="379" stroke="#000" stroke-width="1.5"/>
<line x1="368.3" y1="372.2" x2="368.3" y2="378.6" stroke="#000" stroke-width="1.5"/>
<line x1="360.8" y1="221.8" x2="367" y2="221.8" stroke="#000" stroke-width="1.3"/>
<text x="359.8" y="227.4" font-size="13" fill="#000" text-anchor="end" stroke="#000" stroke-width="0.25">250</text>
<line x1="360.8" y1="251.8" x2="367" y2="251.8" stroke="#000" stroke-width="1.3"/>
<text x="359.8" y="257.40000000000003" font-size="13" fill="#000" text-anchor="end" stroke="#000" stroke-width="0.25">200</text>
<line x1="360.8" y1="281.8" x2="367" y2="281.8" stroke="#000" stroke-width="1.3"/>
<text x="359.8" y="287.40000000000003" font-size="13" fill="#000" text-anchor="end" stroke="#000" stroke-width="0.25">150</text>
<line x1="360.8" y1="311.8" x2="367" y2="311.8" stroke="#000" stroke-width="1.3"/>
<text x="359.8" y="317.40000000000003" font-size="13" fill="#000" text-anchor="end" stroke="#000" stroke-width="0.25">100</text>
<line x1="360.8" y1="341.8" x2="367" y2="341.8" stroke="#000" stroke-width="1.3"/>
<text x="359.8" y="347.40000000000003" font-size="13" fill="#000" text-anchor="end" stroke="#000" stroke-width="0.25">50</text>
<line x1="360.8" y1="371.8" x2="367" y2="371.8" stroke="#000" stroke-width="1.3"/>
<text x="359.8" y="377.40000000000003" font-size="13" fill="#000" text-anchor="end" stroke="#000" stroke-width="0.25">0</text>
<text x="329.3" y="349.6" font-size="14" fill="#000" textLength="93" lengthAdjust="spacingAndGlyphs" transform="rotate(-90 329.3 349.6)" stroke="#000" stroke-width="0.25">Frequency, Hz</text>
<text x="367.4" y="392.8" font-size="13.3" fill="#000" text-anchor="middle" stroke="#000" stroke-width="0.25">0</text>
<text x="686.3" y="392.6" font-size="13.3" fill="#000" text-anchor="end" stroke="#000" stroke-width="0.25">260</text>
<text x="495" y="396.3" font-size="14" fill="#000" textLength="56.5" lengthAdjust="spacingAndGlyphs" stroke="#000" stroke-width="0.25">Time, ms</text>
<line x1="368.2" y1="296.8" x2="678.6" y2="296.8" stroke="#fff" stroke-width="2.1" stroke-dasharray="5.5 2.3"/>
<line x1="368.2" y1="317.8" x2="678.6" y2="317.8" stroke="#fff" stroke-width="2.1" stroke-dasharray="5.5 2.3"/>
<line x1="368.2" y1="350.8" x2="678.6" y2="350.8" stroke="#fff" stroke-width="2.1" stroke-dasharray="5.5 2.3"/>
<path d="M368.2 214.7 L400 214.7 C403 214.8,405 218.4,408 218.4 C411 218.4,413.5 213,415.6 207 C418.2 199,420.6 190.4,422.7 190.4 C424.5 190.4,425.8 199,426.8 205 C427.6 210,428.4 213,429.4 214 C431 215.3,434 214.9,437 214.8 L470 214.9 L520 214.6 C528 214.6,535 214.8,539 215.8 C542 216.6,544 217.6,545.5 217.2 C548 216.5,550 212,553 208 C555.5 205,558 202.8,561 202.3 C563.5 201.9,565 203.5,567 203 C570 202,573 200,577.3 200 C583 200,590 202.5,598 205 C608 208,618 211.5,627 214 C632 215.2,637 215.7,642 215.7 L678 215.8" fill="none" stroke="#000" stroke-width="2.3" stroke-linejoin="round"/>
<text x="368.2" y="198.8" font-size="13" fill="#000" textLength="27.2" lengthAdjust="spacingAndGlyphs" stroke="#000" stroke-width="0.25">NOR</text>
<text x="518.9" y="197.4" font-size="13" fill="#000" textLength="24.6" lengthAdjust="spacingAndGlyphs" stroke="#000" stroke-width="0.25">VPB</text>
<text x="476.2" y="269.6" font-size="13.1" fill="#000" textLength="62" lengthAdjust="spacingAndGlyphs" stroke="#000" stroke-width="0.25">high power</text>
<line x1="472" y1="264.7" x2="448" y2="264.7" stroke="#000" stroke-width="1.35"/>
<polyline points="453.4,260.5 448.0,264.7 453.4,268.9" fill="none" stroke="#000" stroke-width="1.35" stroke-linecap="round" stroke-linejoin="miter"/>
<text x="476.2" y="339.3" font-size="13.1" fill="#000" textLength="62" lengthAdjust="spacingAndGlyphs" stroke="#000" stroke-width="0.25">high power</text>
<line x1="472" y1="334.4" x2="448" y2="334.4" stroke="#000" stroke-width="1.35"/>
<polyline points="453.4,330.2 448.0,334.4 453.4,338.6" fill="none" stroke="#000" stroke-width="1.35" stroke-linecap="round" stroke-linejoin="miter"/>
<text x="477.3" y="366.3" font-size="13.1" fill="#000" textLength="62" lengthAdjust="spacingAndGlyphs" stroke="#000" stroke-width="0.25">high power</text>
<line x1="543.4" y1="361.9" x2="580.6" y2="361.9" stroke="#000" stroke-width="1.35"/>
<polyline points="575.2,366.1 580.6,361.9 575.2,357.7" fill="none" stroke="#000" stroke-width="1.35" stroke-linecap="round" stroke-linejoin="miter"/>
<line x1="661.7" y1="223.3" x2="661.7" y2="295" stroke="#fff" stroke-width="1.8"/>
<polyline points="665.5,228.9 661.7,223.3 657.9,228.9" fill="none" stroke="#fff" stroke-width="1.8" stroke-linecap="round" stroke-linejoin="miter"/>
<polyline points="657.9,289.4 661.7,295.0 665.5,289.4" fill="none" stroke="#fff" stroke-width="1.8" stroke-linecap="round" stroke-linejoin="miter"/>
<line x1="661.9" y1="319.3" x2="661.9" y2="348.8" stroke="#fff" stroke-width="1.8"/>
<polyline points="665.7,324.9 661.9,319.3 658.1,324.9" fill="none" stroke="#fff" stroke-width="1.8" stroke-linecap="round" stroke-linejoin="miter"/>
<polyline points="658.1,343.2 661.9,348.8 665.7,343.2" fill="none" stroke="#fff" stroke-width="1.8" stroke-linecap="round" stroke-linejoin="miter"/>
<line x1="661.9" y1="352.7" x2="661.9" y2="371.2" stroke="#fff" stroke-width="1.8"/>
<polyline points="665.0,357.3 661.9,352.7 658.8,357.3" fill="none" stroke="#fff" stroke-width="1.8" stroke-linecap="round" stroke-linejoin="miter"/>
<polyline points="658.8,366.6 661.9,371.2 665.0,366.6" fill="none" stroke="#fff" stroke-width="1.8" stroke-linecap="round" stroke-linejoin="miter"/>
<text x="666.7" y="263.8" font-size="12.5" fill="#fff" font-weight="bold" stroke="#fff" stroke-width="0.35">C</text>
<text x="669" y="339.8" font-size="12.5" fill="#fff" font-weight="bold" stroke="#fff" stroke-width="0.35">B</text>
<text x="668.4" y="367.3" font-size="12.5" fill="#fff" font-weight="bold" stroke="#fff" stroke-width="0.35">A</text>
</g>
</svg>
</body></html>
